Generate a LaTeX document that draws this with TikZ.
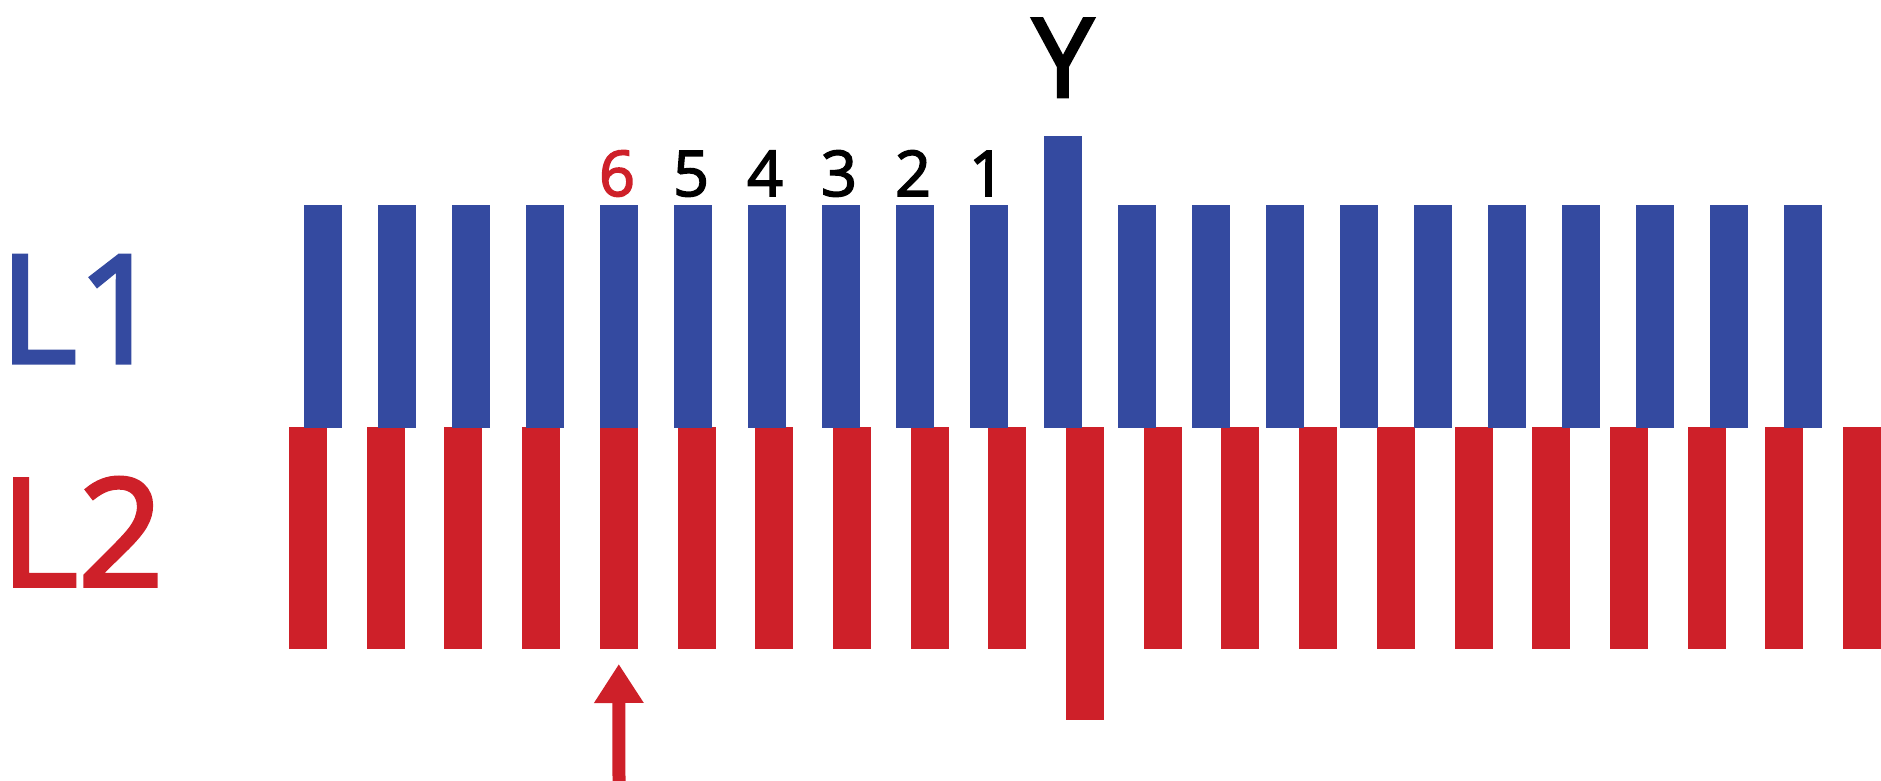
\documentclass[tikz,border=0pt]{standalone}
\usepackage{fontspec}
\setmainfont{Open Sans}
\newfontfamily\heavyfont[FakeBold=2.5]{Open Sans}
\usetikzlibrary{arrows.meta}
\definecolor{lblue}{RGB}{52,74,160}
\definecolor{lred}{RGB}{206,32,41}
\begin{document}
\begin{tikzpicture}[x=1pt,y=-1pt,
  bluebar/.style={rectangle,fill=lblue,draw=none,inner sep=0pt,outer sep=0pt,minimum width=38pt,anchor=north west},
  redbar/.style={rectangle,fill=lred,draw=none,inner sep=0pt,outer sep=0pt,minimum width=38pt,anchor=north west},
  biglabel/.style={inner sep=0pt,anchor=base,font=\heavyfont\fontsize{150}{150}\selectfont},
  digit/.style={inner sep=0pt,anchor=base,font=\heavyfont\fontsize{63}{63}\selectfont},
  pointer/.style={draw=lred,line width=13pt,-{Triangle[width=47pt,length=39pt]}}]
\useasboundingbox (0,0) rectangle (1881,781);
% red bars (L2)
\foreach \i in {0,...,20}{
  \ifnum\i=10
    \node[redbar,minimum height=293pt] (r\i) at ({289+77.7*\i},427) {};
  \else
    \node[redbar,minimum height=222pt] (r\i) at ({289+77.7*\i},427) {};
  \fi
}
% blue bars (L1)
\foreach \i in {0,...,20}{
  \ifnum\i=10
    \node[bluebar,minimum height=291.5pt] (b\i) at ({304+74*\i},136) {};
  \else
    \node[bluebar,minimum height=222.5pt] (b\i) at ({304+74*\i},205) {};
  \fi
}
% labels
\node[biglabel,text=lblue] (L1) at (81,362.7) {L1};
\node[biglabel,text=lred] (L2) at (82,586) {L2};
\node[inner sep=0pt,anchor=base,font=\heavyfont\fontsize{110}{110}\selectfont] (Y) at (1063,97) {Y};
\node[digit,text=lred] (n6) at (617,196) {6};
\node[digit] (n5) at (691,196) {5};
\node[digit] (n4) at (765,196) {4};
\node[digit] (n3) at (839,196) {3};
\node[digit] (n2) at (913,196) {2};
\node[digit] (n1) at (987,196) {1};
% arrow
\coordinate (foot) at (619,781);
\draw[pointer] (foot) -- ([yshift=-15pt]r4.south);
\end{tikzpicture}
\end{document}
